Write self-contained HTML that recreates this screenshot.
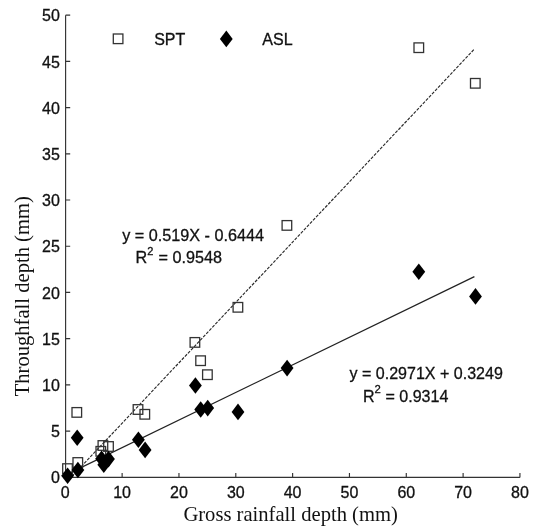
<!DOCTYPE html>
<html><head><meta charset="utf-8"><title>Throughfall vs gross rainfall</title>
<style>
html,body{margin:0;padding:0;background:#fff;}
svg{display:block;}
.t{font-family:'Liberation Sans', Arial, sans-serif;font-size:16px;fill:#111;stroke:#111;stroke-width:0.3px;}
.e{font-family:'Liberation Sans', Arial, sans-serif;font-size:16.2px;fill:#111;stroke:#111;stroke-width:0.3px;}
.s{font-family:'Liberation Serif', 'Times New Roman', serif;font-size:20.6px;fill:#111;}
</style></head><body>
<svg width="550" height="531" viewBox="0 0 550 531">
<rect width="550" height="531" fill="#fff"/>

<path d="M65.6 15.15V477.4H519.94" fill="none" stroke="#333" stroke-width="1.15"/>
<path d="M65.6 477.30H70.2 M65.6 431.09H70.2 M65.6 384.87H70.2 M65.6 338.65H70.2 M65.6 292.44H70.2 M65.6 246.22H70.2 M65.6 200.01H70.2 M65.6 153.80H70.2 M65.6 107.58H70.2 M65.6 61.37H70.2 M65.6 15.15H70.2 M122.13 477.4V472.9 M178.96 477.4V472.9 M235.79 477.4V472.9 M292.62 477.4V472.9 M349.45 477.4V472.9 M406.28 477.4V472.9 M463.11 477.4V472.9 M519.94 477.4V472.9" fill="none" stroke="#333" stroke-width="1.15"/>
<text class="t" x="59.8" y="483.4" text-anchor="end">0</text>
<text class="t" x="59.8" y="437.2" text-anchor="end">5</text>
<text class="t" x="59.8" y="391.0" text-anchor="end">10</text>
<text class="t" x="59.8" y="344.8" text-anchor="end">15</text>
<text class="t" x="59.8" y="298.5" text-anchor="end">20</text>
<text class="t" x="59.8" y="252.3" text-anchor="end">25</text>
<text class="t" x="59.8" y="206.1" text-anchor="end">30</text>
<text class="t" x="59.8" y="159.9" text-anchor="end">35</text>
<text class="t" x="59.8" y="113.7" text-anchor="end">40</text>
<text class="t" x="59.8" y="67.5" text-anchor="end">45</text>
<text class="t" x="59.8" y="21.2" text-anchor="end">50</text>
<text class="t" x="65.3" y="498" text-anchor="middle">0</text>
<text class="t" x="122.1" y="498" text-anchor="middle">10</text>
<text class="t" x="179.0" y="498" text-anchor="middle">20</text>
<text class="t" x="235.8" y="498" text-anchor="middle">30</text>
<text class="t" x="292.6" y="498" text-anchor="middle">40</text>
<text class="t" x="349.4" y="498" text-anchor="middle">50</text>
<text class="t" x="406.3" y="498" text-anchor="middle">60</text>
<text class="t" x="463.1" y="498" text-anchor="middle">70</text>
<text class="t" x="519.9" y="498" text-anchor="middle">80</text>
<line x1="72" y1="476.39" x2="474.3" y2="49.16" stroke="#2a2a2a" stroke-width="1.15" stroke-dasharray="3.1 1.35"/>
<line x1="67" y1="474.35" x2="474.4" y2="276.64" stroke="#222" stroke-width="1.2"/>
<rect x="62.70" y="463.80" width="9.6" height="9.6" fill="none" stroke="#333" stroke-width="1.3"/>
<rect x="72.00" y="407.60" width="9.6" height="9.6" fill="none" stroke="#333" stroke-width="1.3"/>
<rect x="73.00" y="457.70" width="9.6" height="9.6" fill="none" stroke="#333" stroke-width="1.3"/>
<rect x="98.10" y="440.70" width="9.6" height="9.6" fill="none" stroke="#333" stroke-width="1.3"/>
<rect x="103.70" y="441.70" width="9.6" height="9.6" fill="none" stroke="#333" stroke-width="1.3"/>
<rect x="96.00" y="446.50" width="9.6" height="9.6" fill="none" stroke="#333" stroke-width="1.3"/>
<rect x="133.20" y="404.70" width="9.6" height="9.6" fill="none" stroke="#333" stroke-width="1.3"/>
<rect x="140.00" y="409.50" width="9.6" height="9.6" fill="none" stroke="#333" stroke-width="1.3"/>
<rect x="190.10" y="337.60" width="9.6" height="9.6" fill="none" stroke="#333" stroke-width="1.3"/>
<rect x="195.80" y="355.90" width="9.6" height="9.6" fill="none" stroke="#333" stroke-width="1.3"/>
<rect x="202.60" y="369.90" width="9.6" height="9.6" fill="none" stroke="#333" stroke-width="1.3"/>
<rect x="233.10" y="302.50" width="9.6" height="9.6" fill="none" stroke="#333" stroke-width="1.3"/>
<rect x="282.10" y="220.60" width="9.6" height="9.6" fill="none" stroke="#333" stroke-width="1.3"/>
<rect x="414.00" y="42.90" width="9.6" height="9.6" fill="none" stroke="#333" stroke-width="1.3"/>
<rect x="470.50" y="78.50" width="9.6" height="9.6" fill="none" stroke="#333" stroke-width="1.3"/>
<path d="M67.60 467.40L74.00 475.70L67.60 484.00L61.20 475.70Z" fill="#000"/>
<path d="M77.90 461.70L84.30 470.00L77.90 478.30L71.50 470.00Z" fill="#000"/>
<path d="M77.20 429.40L83.60 437.70L77.20 446.00L70.80 437.70Z" fill="#000"/>
<path d="M101.60 450.50L108.00 458.80L101.60 467.10L95.20 458.80Z" fill="#000"/>
<path d="M108.50 450.80L114.90 459.10L108.50 467.40L102.10 459.10Z" fill="#000"/>
<path d="M103.80 456.50L110.20 464.80L103.80 473.10L97.40 464.80Z" fill="#000"/>
<path d="M138.40 431.50L144.80 439.80L138.40 448.10L132.00 439.80Z" fill="#000"/>
<path d="M145.10 441.60L151.50 449.90L145.10 458.20L138.70 449.90Z" fill="#000"/>
<path d="M195.40 377.20L201.80 385.50L195.40 393.80L189.00 385.50Z" fill="#000"/>
<path d="M200.70 401.20L207.10 409.50L200.70 417.80L194.30 409.50Z" fill="#000"/>
<path d="M207.70 399.80L214.10 408.10L207.70 416.40L201.30 408.10Z" fill="#000"/>
<path d="M238.00 403.60L244.40 411.90L238.00 420.20L231.60 411.90Z" fill="#000"/>
<path d="M287.10 359.80L293.50 368.10L287.10 376.40L280.70 368.10Z" fill="#000"/>
<path d="M418.80 263.50L425.20 271.80L418.80 280.10L412.40 271.80Z" fill="#000"/>
<path d="M475.50 288.10L481.90 296.40L475.50 304.70L469.10 296.40Z" fill="#000"/>
<rect x="113.30" y="34.00" width="9.6" height="9.6" fill="none" stroke="#333" stroke-width="1.3"/>
<text class="t" x="154.2" y="44.5">SPT</text>
<path d="M226.30 30.60L232.70 38.90L226.30 47.20L219.90 38.90Z" fill="#000"/>
<text class="t" x="262.3" y="44.5">ASL</text>
<text class="e" x="122.2" y="241.0">y = 0.519X - 0.6444</text>
<text class="e" x="135.5" y="262.9">R<tspan font-size="11px" dy="-8.3">2</tspan><tspan dx="0.8" dy="8.3"> = 0.9548</tspan></text>
<text class="e" x="349.5" y="379.4" style="font-size:16.05px">y = 0.2971X + 0.3249</text>
<text class="e" x="362.9" y="401.6" style="font-size:16.05px">R<tspan font-size="11.3px" dy="-8.5">2</tspan><tspan dx="0.3" dy="8.5"> = 0.9314</tspan></text>
<text class="s" x="183.4" y="521.4">Gross rainfall depth (mm)</text>
<text class="s" transform="translate(28.5 396.3) rotate(-90)">Throughfall depth (mm)</text>
</svg>
</body></html>
